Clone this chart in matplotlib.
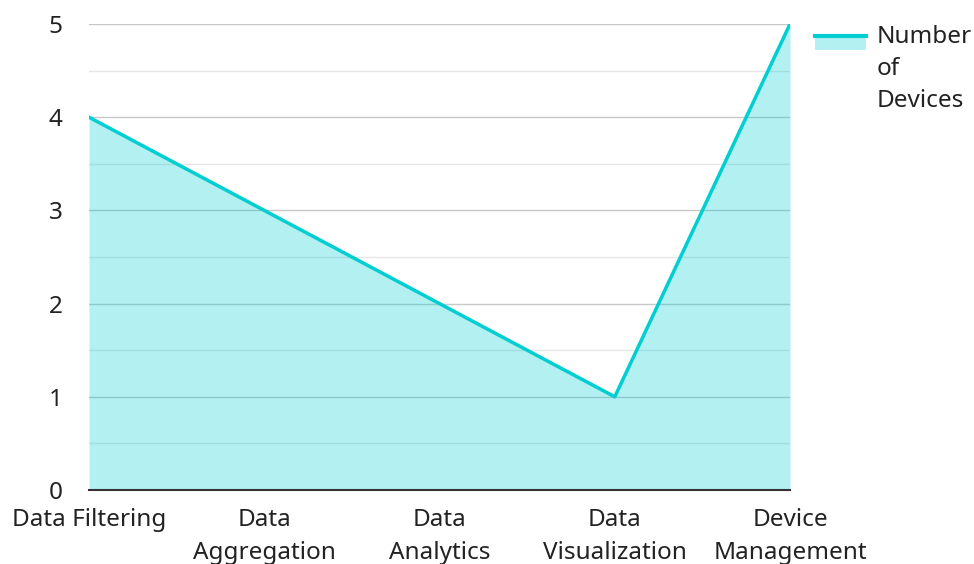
import matplotlib.pyplot as plt
from matplotlib.legend_handler import HandlerBase
from matplotlib.lines import Line2D
from matplotlib.patches import Patch, Rectangle

categories = ["Data Filtering", "Data\nAggregation", "Data\nAnalytics",
              "Data\nVisualization", "Device\nManagement"]
devices = [4, 3, 2, 1, 5]
series_name = "Number\nof\nDevices"

line_color = "#00CED1"

plt.rcParams["font.family"] = ["Noto Sans", "DejaVu Sans"]


class AreaHandler(HandlerBase):
    # line on top of a filled strip, next to the first line of the label
    def create_artists(self, legend, orig_handle, xdescent, ydescent,
                       width, height, fontsize, trans):
        top = height * 0.55 + 23.5
        rect = Rectangle((-xdescent, top - 10), width, 10, facecolor=line_color,
                         alpha=0.3, linewidth=0, transform=trans)
        line = Line2D([-xdescent, -xdescent + width], [top, top],
                      color=line_color, linewidth=3, transform=trans)
        return [rect, line]


fig = plt.figure(figsize=(9.74, 5.64), dpi=100)
ax = fig.add_axes([0.0914, 0.1312, 0.7197, 0.8262])

x = list(range(len(categories)))
ax.fill_between(x, devices, 0, color=line_color, alpha=0.3, linewidth=0, zorder=2)
ax.plot(x, devices, color=line_color, linewidth=2.5, zorder=3)

ax.set_xlim(0, len(categories) - 1)
ax.set_ylim(0, 5)
ax.set_xticks(x)
ax.set_xticklabels(categories, fontsize=17.5, color="#222222", linespacing=1.5)
ax.set_yticks(range(6))
ax.set_yticks([i + 0.5 for i in range(5)], minor=True)
ax.tick_params(axis="y", which="both", length=0, labelsize=17.5, labelcolor="#222222", pad=19)
ax.tick_params(axis="x", length=0, pad=13)

ax.grid(axis="y", which="major", color="#c8c8c8", linewidth=1, zorder=1)
ax.grid(axis="y", which="minor", color="#e6e6e6", linewidth=1, zorder=1)
ax.set_axisbelow(True)

for side in ["top", "right", "left"]:
    ax.spines[side].set_visible(False)
ax.spines["bottom"].set_color("#333333")
ax.spines["bottom"].set_linewidth(1.5)
ax.spines["bottom"].set_zorder(4)

leg = ax.legend([Patch()], [series_name], handler_map={Patch: AreaHandler()},
                loc="upper left", bbox_to_anchor=(1.005, 1.045),
                frameon=False, fontsize=17.5, handlelength=2.1, handletextpad=0.42,
                labelspacing=0.2)
for t in leg.get_texts():
    t.set_linespacing(1.45)
    t.set_color("#222222")

fig.savefig("out.png", dpi=100)
